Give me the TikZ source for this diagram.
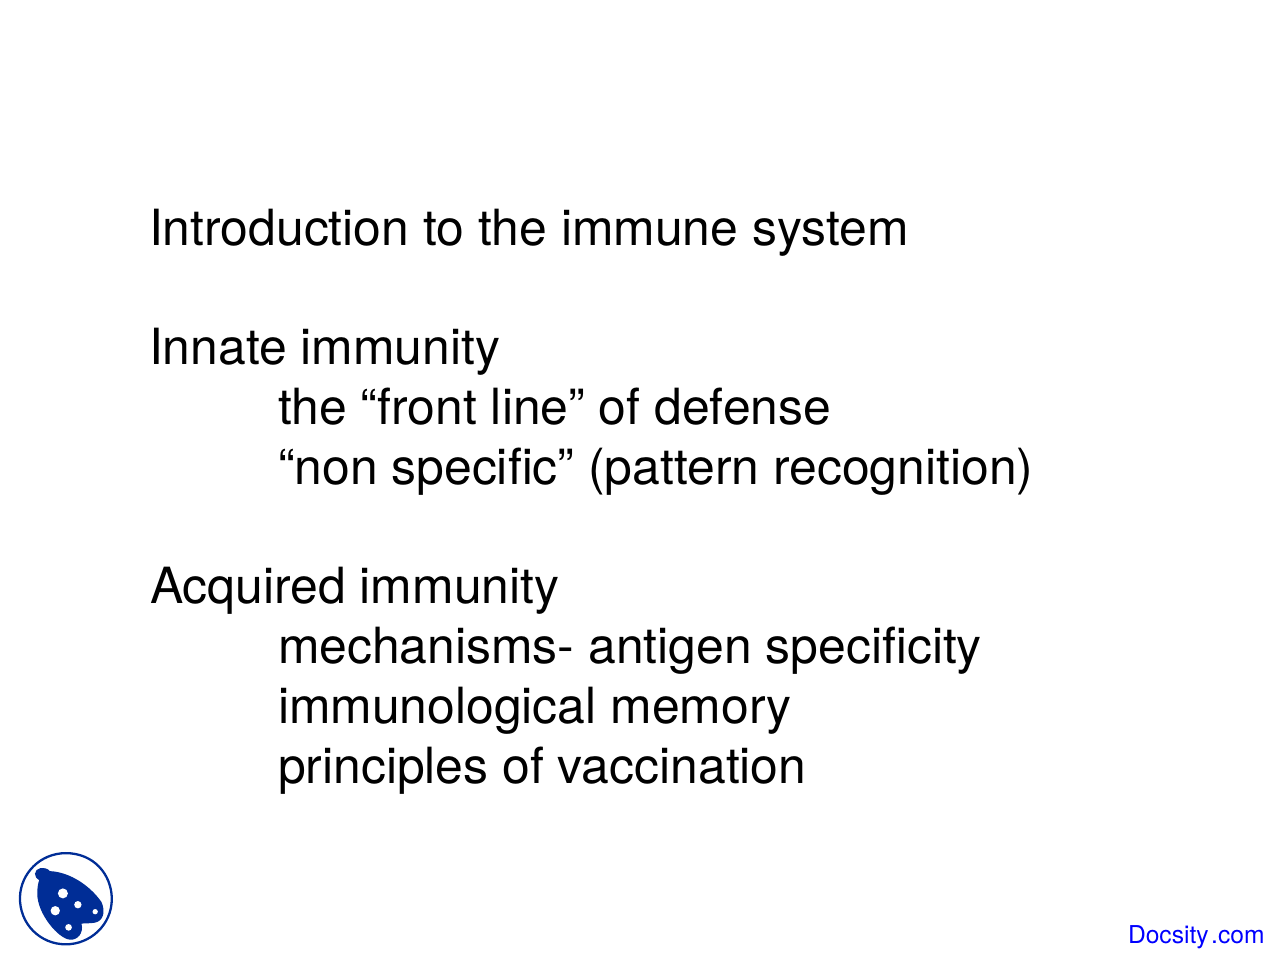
\documentclass[tikz,border=0pt]{standalone}
\usepackage{fontspec}
\setmainfont{TeX Gyre Heros}
\definecolor{logoblue}{RGB}{0,45,150}
\tikzset{
  slide/.style={anchor=base west,inner sep=0pt,outer sep=0pt,font=\fontsize{14.18pt}{16pt}\selectfont,text=black},
  foot/.style={anchor=base west,inner sep=0pt,outer sep=0pt,font=\fontsize{7pt}{8pt}\selectfont,text=blue}
}
\begin{document}
\begin{tikzpicture}[x=0.01cm,y=-0.01cm]
\useasboundingbox (0,0) rectangle (1280,960);
\node[slide] (t1) at (149,245) {Introduction to the immune system};
\node[slide] (t2) at (149,364) {Innate immunity};
\node[slide] (t3) at (278,424) {the “front line” of defense};
\node[slide] (t4) at (278,484) {“non specific” (pattern recognition)};
\node[slide] (t5) at (150,603) {Acquired immunity};
\node[slide] (t6) at (278,663) {mechanisms- antigen specificity};
\node[slide] (t7) at (278,723) {immunological memory};
\node[slide] (t8) at (278,783) {principles of vaccination};
\node[foot] (d) at (1128,943) {Docsity\kern0.7pt.com};
\begin{scope}[x=0.003333cm,y=-0.003333cm,yshift=-8.3cm]
\draw[logoblue,line width=0.65pt,fill=white] (60,200) .. controls (62,130) and (120,68) .. (198,68)
  .. controls (280,68) and (335,130) .. (336,205)
  .. controls (336,285) and (270,342) .. (198,342)
  .. controls (120,342) and (58,280) .. (60,200) -- cycle;
\fill[logoblue] (105,130) .. controls (105,112) and (135,105) .. (150,122)
  .. controls (210,125) and (270,165) .. (305,215)
  .. controls (318,245) and (310,272) .. (285,277)
  .. controls (268,280) and (252,278) .. (245,280)
  .. controls (252,310) and (232,330) .. (210,328)
  .. controls (175,325) and (112,250) .. (112,190)
  .. controls (112,170) and (115,155) .. (118,150)
  .. controls (110,145) and (105,138) .. (105,130) -- cycle;
\fill[white] (189,189) circle (15);
\fill[white] (166,241) circle (14);
\fill[white] (234,223) circle (11);
\fill[white] (286,244) circle (8);
\fill[white] (206,291) circle (10);
\end{scope}
\end{tikzpicture}
\end{document}
